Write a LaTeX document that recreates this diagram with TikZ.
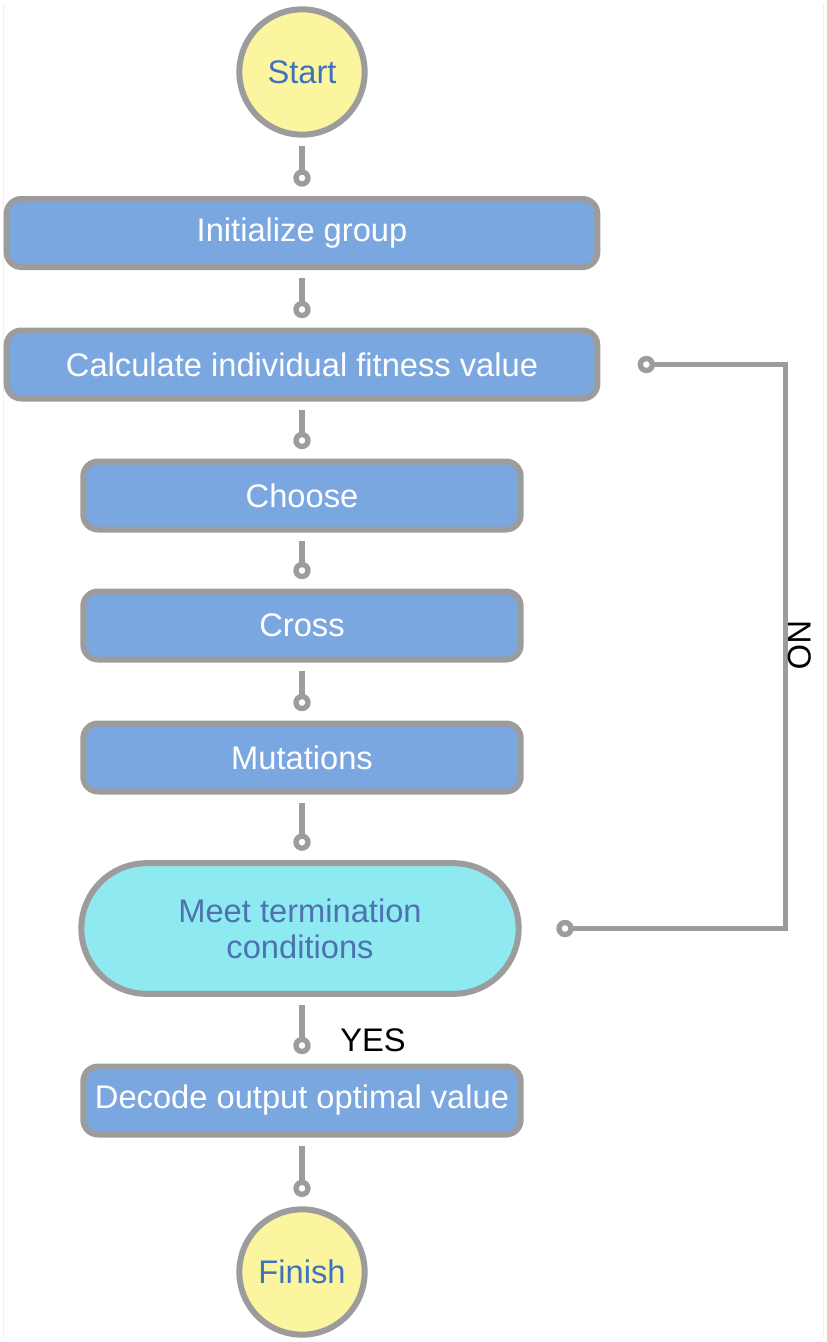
\documentclass[tikz,border=0pt]{standalone}
\usepackage{fontspec}
\setmainfont{Liberation Sans}
\usetikzlibrary{arrows.meta}
\definecolor{boxblue}{HTML}{7BA7E1}
\definecolor{edgegray}{HTML}{9C9C9C}
\definecolor{termyellow}{HTML}{FBF59F}
\definecolor{termtext}{HTML}{3D72C0}
\definecolor{testcyan}{HTML}{8FE9F1}
\definecolor{testtext}{HTML}{4E72B0}
\begin{document}
\begin{tikzpicture}[x=0.75pt,y=-0.75pt,
    every node/.style={font=\fontsize{24.5}{27}\selectfont},
    terminal/.style={circle,draw=edgegray,line width=4.5pt,fill=termyellow,
      text=termtext,minimum size=94pt,inner sep=0pt},
    widebox/.style={rectangle,rounded corners=11pt,draw=edgegray,line width=4.5pt,
      fill=boxblue,text=white,minimum width=443pt,minimum height=51pt},
    stepbox/.style={widebox,minimum width=328pt},
    testbox/.style={rectangle,rounded corners=49pt,draw=edgegray,line width=4.5pt,
      fill=testcyan,text=testtext,align=center,minimum width=328pt,minimum height=98pt},
    dot/.tip={Circle[open,length=13pt,line width=4pt,fill=white]},
    link/.style={draw=edgegray,line width=4pt,
      -dot,shorten <=6pt,shorten >=7pt}]
  \useasboundingbox (0,0) rectangle (826,1342);
  \draw[gray!12,line width=0.75pt] (3,3) -- (3,1338) (823,3) -- (823,1338);
  \draw
    (302,72) node[terminal] (start){Start}
    (302,233) node[widebox] (init){Initialize group}
    (302,364.5) node[widebox] (calc){Calculate individual fitness value}
    (302,495.5) node[stepbox] (choose){Choose}
    (302,625.5) node[stepbox] (cross){Cross}
    (302,757.5) node[stepbox] (mutate){Mutations}
    (300,928.5) node[testbox] (meet){Meet termination\\conditions}
    (302,1100.5) node[stepbox] (decode){Decode output optimal value}
    (302,1272) node[terminal] (finish){Finish};
  \begin{scope}[link]
    \draw (start) to (init);
    \draw (init) to (calc);
    \draw (calc) to (choose);
    \draw (choose) to (cross);
    \draw (cross) to (mutate);
    \draw (mutate.south) to (mutate.south |- meet.north);
    \draw (meet.south -| decode.north) to (decode);
    \draw (decode) to (finish);
  \end{scope}
  \draw[link,dot-dot,shorten <=26pt,shorten >=28pt]
    (meet.east) -- ++(264,0) |- (calc.east);
  \draw (373,1040) node (yes){YES};
  \draw (800,645) node[rotate=-90] (no){NO};
\end{tikzpicture}
\end{document}
